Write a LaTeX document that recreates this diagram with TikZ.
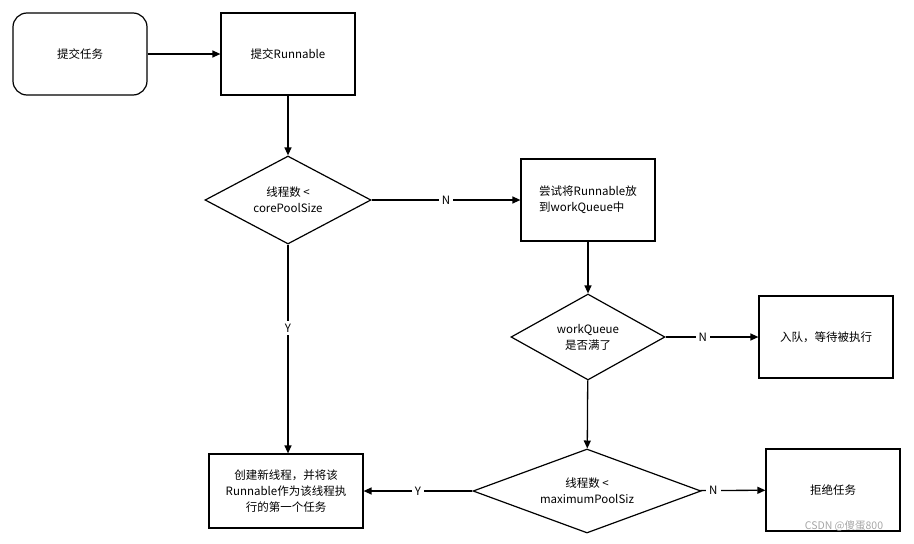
\documentclass[tikz,border=0pt]{standalone}
\usepackage{fontspec}
\setmainfont{Noto Sans CJK SC}
\usetikzlibrary{shapes.geometric,arrows.meta}
\begin{document}
\begin{tikzpicture}[x=1pt,y=-1pt,
  every node/.style={font=\fontsize{11.5}{16}\selectfont},
  box/.style={draw,line width=1.2pt,minimum width=134pt,minimum height=82pt,inner sep=2pt},
  dia/.style={draw,line width=1.2pt,diamond,aspect=1.9,inner sep=0pt,align=center},
  arr/.style={line width=1.3pt,-{Triangle[length=8pt,width=7pt]}},
  lab/.style={fill=white,inner sep=3pt}]
\useasboundingbox (0,0) rectangle (914,544);
\node[box,rounded corners=14pt] (a) at (80,54) {提交任务};
\node[box] (b) at (288,54) {提交Runnable};
\node[dia,minimum width=166pt,minimum height=88pt] (d1) at (288,200) {线程数 <\\corePoolSize};
\node[box,align=left] (c) at (588,200) {尝试将Runnable放\\到workQueue中};
\node[dia,minimum width=154pt,minimum height=86pt] (d2) at (588,337) {workQueue\\是否满了};
\node[box] (e) at (826,337) {入队，等待被执行};
\node[dia,minimum width=228pt,minimum height=84pt,aspect=2.7] (d3) at (587,491) {线程数 <\\maximumPoolSiz};
\node[box] (f) at (833,490) {拒绝任务};
\node[box,minimum width=154pt,minimum height=74pt,align=center] (g) at (286,491) {创建新线程，并将该\\Runnable作为该线程执\\行的第一个任务};
\node[text=gray!70,font=\fontsize{10.5}{12}\selectfont] (w) at (844,526) {CSDN @傻蛋800};
\draw[arr] (a) -- (b);
\draw[arr] (b) -- (d1);
\draw[arr] (d1) -- node[lab]{N} (c);
\draw[arr] (d1.south) -- node[lab,pos=0.4]{Y} (d1.south |- g.north);
\draw[arr] (c) -- (d2);
\draw[arr] (d2) -- node[lab,pos=0.4]{N} (e);
\draw[arr] (d2) -- (d3);
\draw[arr] (d3) -- node[lab,pos=0.2]{N} (f);
\draw[arr] (d3) -- node[lab,pos=0.5]{Y} (g);
\end{tikzpicture}
\end{document}
